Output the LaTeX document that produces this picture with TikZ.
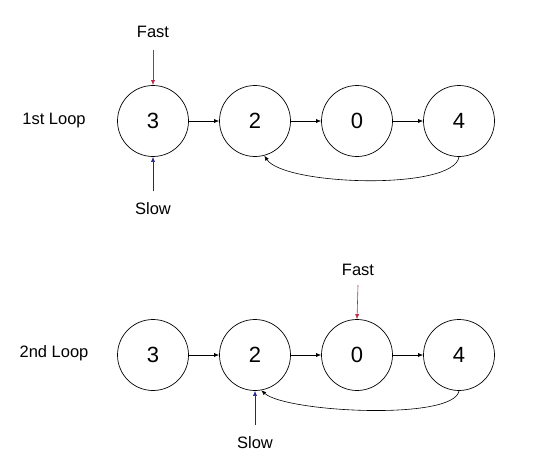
\documentclass[tikz,border=0pt]{standalone}
\usepackage{fontspec}
\setmainfont{Liberation Sans}
\usetikzlibrary{arrows.meta}
\definecolor{fastred}{RGB}{190,40,70}
\definecolor{slowblue}{RGB}{35,35,140}
\begin{document}
\begin{tikzpicture}[x=1pt,y=-1pt,
  listnode/.style={draw,circle,minimum size=71pt,inner sep=0pt,line width=0.7pt,font=\fontsize{22}{24}\selectfont},
  lbl/.style={font=\fontsize{16.5}{18}\selectfont,inner sep=0pt},
  link/.style={line width=0.6pt,-{Latex[length=5pt,width=4pt]}},
  fastarrow/.style={link,fastred},
  slowarrow/.style={link,slowblue}]
\useasboundingbox (0,0) rectangle (545,469);
% first loop
\node[lbl] (loop1) at (54,121) {1st Loop};
\node[listnode] (a3) at (153,121) {3};
\node[listnode] (a2) at (255,121) {2};
\node[listnode] (a0) at (357,121) {0};
\node[listnode] (a4) at (459,121) {4};
\draw[link] (a3) -- (a2);
\draw[link] (a2) -- (a0);
\draw[link] (a0) -- (a4);
\draw[link] (a4.south) .. controls +(-5,34) and +(20,30) .. (a2.-75);
\node[lbl] (fast1) at (153,32) {Fast};
\coordinate (f1s) at (153,50);
\draw[fastarrow] (f1s) -- (a3.north);
\node[lbl] (slow1) at (153,209) {Slow};
\coordinate (s1s) at (153,191);
\draw[slowarrow] (s1s) -- (a3.south);
% second loop
\node[lbl] (loop2) at (54,353) {2nd Loop};
\node[listnode] (b3) at (153,355) {3};
\node[listnode] (b2) at (255,355) {2};
\node[listnode] (b0) at (357,355) {0};
\node[listnode] (b4) at (459,355) {4};
\draw[link] (b3) -- (b2);
\draw[link] (b2) -- (b0);
\draw[link] (b0) -- (b4);
\draw[link] (b4.south) .. controls +(-5,30) and +(25,22) .. (b2.-80);
\node[lbl] (fast2) at (358,270) {Fast};
\coordinate (f2s) at (358,285);
\draw[fastarrow] (f2s) -- (b0.north);
\node[lbl] (slow2) at (255,443) {Slow};
\coordinate (s2s) at (255,425);
\draw[slowarrow] (s2s) -- (b2.south);
\end{tikzpicture}
\end{document}
